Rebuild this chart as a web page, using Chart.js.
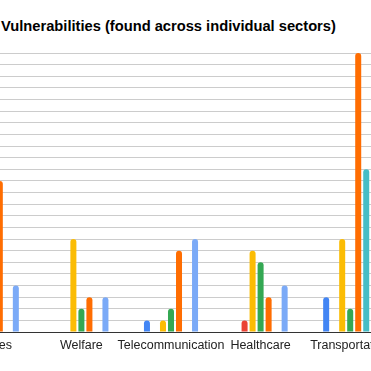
<!DOCTYPE html>
<html>
<head>
<meta charset="utf-8">
<script src="https://cdn.jsdelivr.net/npm/chart.js@4/dist/chart.umd.min.js"></script>
<style>
  html, body { margin: 0; padding: 0; background: #fff; }
  body { width: 371px; height: 371px; overflow: hidden; position: relative; }
  #title {
    position: absolute; left: 1px; top: 18px; white-space: nowrap;
    font: bold 14.7px Arial, 'Liberation Sans', sans-serif; color: #000;
  }
  #chart { position: absolute; left: -53px; top: 0; }
</style>
</head>
<body>
<div id="title">Vulnerabilities (found across individual sectors)</div>
<canvas id="chart" width="450" height="371"></canvas>
<script>
// sectors (the first and last ones are cut off by the crop)
const sectors = ['Utilities', 'Welfare', 'Telecommunication', 'Healthcare', 'Transportation'];

// one list per series (null = outside the visible area)
const blueVals      = [null, 0, 1, 0, 3];
const redVals       = [null, 0, 0, 1, 0];
const yellowVals    = [null, 8, 1, 7, 8];
const greenVals     = [null, 2, 2, 6, 2];
const orangeVals    = [13,   3, 7, 3, 24];
const tealVals      = [0,    0, 0, 0, 14];
const lightBlueVals = [4,    3, 8, 4, null];

const yTicks = { min: 0, max: 24, step: 1 };

const series = [
  { label: 'Series 1', data: blueVals,      color: '#4285F4' },
  { label: 'Series 2', data: redVals,       color: '#EA4335' },
  { label: 'Series 3', data: yellowVals,    color: '#FBBC04' },
  { label: 'Series 4', data: greenVals,     color: '#34A853' },
  { label: 'Series 5', data: orangeVals,    color: '#FF6D01' },
  { label: 'Series 6', data: tealVals,      color: '#46BDC6' },
  { label: 'Series 7', data: lightBlueVals, color: '#7BAAF7' },
];

const ctx = document.getElementById('chart').getContext('2d');
new Chart(ctx, {
  type: 'bar',
  data: {
    labels: sectors,
    datasets: series.map(s => ({
      label: s.label,
      data: s.data,
      backgroundColor: s.color,
      borderWidth: 0,
      borderRadius: { topLeft: 3, topRight: 3 },
      borderSkipped: 'start',
      barPercentage: 0.75,
      categoryPercentage: 0.626,
    }))
  },
  options: {
    responsive: false,
    animation: false,
    devicePixelRatio: 1,
    layout: { padding: { top: 53, left: 0, right: 2, bottom: 12 } },
    plugins: { legend: { display: false }, title: { display: false }, tooltip: { enabled: false } },
    scales: {
      x: {
        grid: { display: false, drawTicks: false },
        border: { display: true, color: '#333', width: 1 },
        ticks: {
          color: '#222', padding: 6, maxRotation: 0, autoSkip: false,
          font: { family: "Arial, 'Liberation Sans', sans-serif", size: 12.5 }
        }
      },
      y: {
        min: yTicks.min, max: yTicks.max,
        grid: { color: '#cccccc', drawTicks: false },
        border: { display: false },
        ticks: { display: false, stepSize: yTicks.step }
      }
    }
  }
});
</script>
</body>
</html>
